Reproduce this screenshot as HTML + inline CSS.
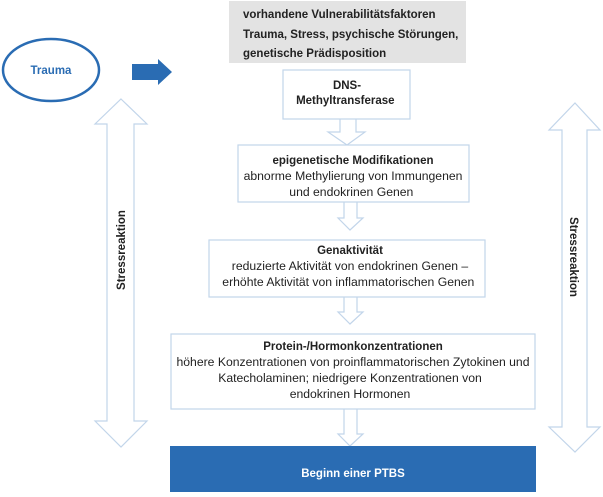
<!DOCTYPE html>
<html><head><meta charset="utf-8"><style>
body{margin:0;width:603px;height:492px;background:#fff;overflow:hidden;font-family:"Liberation Sans",sans-serif}
</style></head><body>
<svg width="603" height="492" viewBox="0 0 603 492" xmlns="http://www.w3.org/2000/svg" font-family="Liberation Sans, sans-serif">
<rect x="229" y="1" width="237" height="62" fill="#e3e3e3"/>
<text font-size="11.5" font-weight="bold" fill="#222"><tspan x="243" y="18">vorhandene Vulnerabilitätsfaktoren</tspan><tspan x="243" y="38">Trauma, Stress, psychische Störungen,</tspan><tspan x="243" y="57">genetische Prädisposition</tspan></text>
<ellipse cx="51" cy="70" rx="48" ry="31" fill="#fff" stroke="#2a6cb3" stroke-width="2.5"/>
<text x="51" y="74" font-size="11.5" font-weight="bold" fill="#2a6cb3" text-anchor="middle">Trauma</text>
<polygon points="132,64 158,64 158,59 172,72 158,85 158,80 132,80" fill="#2a6cb3"/>
<g fill="#fff" stroke="#c2d5ea" stroke-width="1.2">
<polygon points="340,118 356,118 356,132 365,132 347,145 328,132 340,132"/>
<polygon points="344,201 357,201 357,218 363,218 350,230 338,218 344,218"/>
<polygon points="344,296 357,296 357,312 363,312 350,324 338,312 344,312"/>
<polygon points="344,408 357,408 357,434 363,434 350,446 338,434 344,434"/>
<polygon points="121,99 147,124 134,124 134,421 147,421 121,447 95,421 107,421 107,124 95,124"/>
<polygon points="575,103 600,130 587,130 587,427 600,427 575,452 549,427 562,427 562,130 549,130"/>
<rect x="283" y="70" width="127" height="49"/>
<rect x="238" y="145" width="231" height="57"/>
<rect x="209" y="240" width="276" height="57"/>
<rect x="171" y="334" width="364" height="75"/>
</g>
<text font-size="12.2" fill="#222" text-anchor="middle">
<tspan x="347" y="89" font-weight="bold" font-size="11.5">DNS-</tspan><tspan x="347" y="104" font-weight="bold" font-size="11.5">Methyltransferase</tspan>
<tspan x="353" y="164" font-weight="bold" font-size="11.5">epigenetische Modifikationen</tspan><tspan x="353" y="180">abnorme Methylierung von Immungenen</tspan><tspan x="353" y="196">und endokrinen Genen</tspan>
<tspan x="350" y="254" font-weight="bold" font-size="11.5">Genaktivität</tspan><tspan x="350" y="270">reduzierte Aktivität von endokrinen Genen –</tspan><tspan x="350" y="286">erhöhte Aktivität von inflammatorischen Genen</tspan>
<tspan x="353" y="350" font-weight="bold" font-size="11.5">Protein-/Hormonkonzentrationen</tspan><tspan x="353" y="366">höhere Konzentrationen von proinflammatorischen Zytokinen und</tspan><tspan x="350" y="382">Katecholaminen; niedrigere Konzentrationen von</tspan><tspan x="350" y="398">endokrinen Hormonen</tspan>
</text>
<rect x="170" y="446" width="366" height="46" fill="#2a6cb3"/>
<text x="353" y="477" font-size="11.5" font-weight="bold" fill="#fff" text-anchor="middle">Beginn einer PTBS</text>
<text transform="translate(125,250) rotate(-90)" font-size="11.5" font-weight="bold" fill="#222" text-anchor="middle">Stressreaktion</text>
<text transform="translate(570,257) rotate(90)" font-size="11.5" font-weight="bold" fill="#222" text-anchor="middle">Stressreaktion</text>
</svg>
</body></html>
